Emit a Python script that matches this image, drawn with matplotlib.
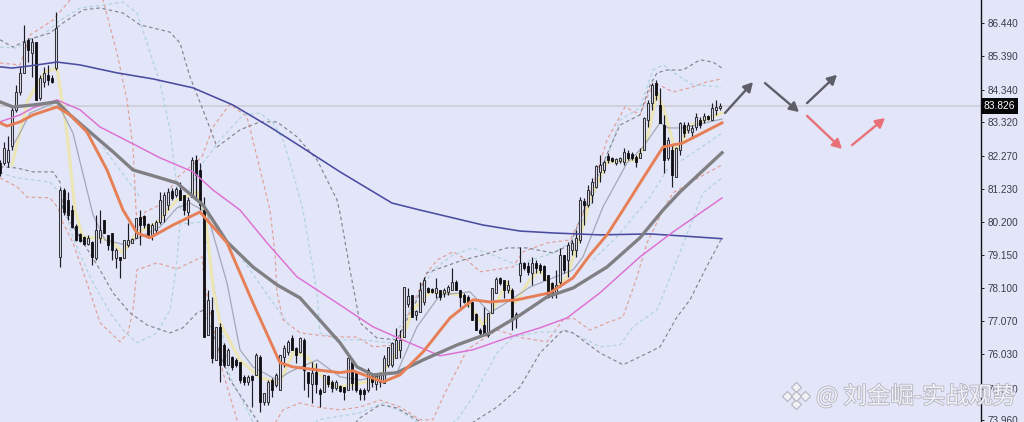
import numpy as np
import matplotlib
matplotlib.use("Agg")
import matplotlib.pyplot as plt
import matplotlib.patheffects as pe
from matplotlib.lines import Line2D

BG = "#e3e5f9"
nan = float("nan")

# candles, one value per bar
opens = [
    82.04, 82.04, 82.07, 82.57, 83.71, 84.27, 84.87, 85.91, 85.50, 85.84,
    84.08, 84.59, 84.81, 84.71, 85.02, 79.09, 81.19, 80.88, 80.56, 80.06,
    79.81, 79.72, 79.50, 79.56, 79.06, 79.69, 80.25, 79.78, 79.84, 79.06,
    79.09, 79.06, 79.47, 79.53, 79.69, 80.35, 80.38, 80.12, 79.78, 79.94,
    80.19, 80.41, 80.72, 81.16, 81.03, 81.19, 81.03, 80.50, 80.97, 82.14,
    81.82, 80.56, 76.64, 77.42, 75.85, 76.89, 76.32, 75.70, 75.95, 75.85,
    75.79, 75.32, 75.16, 75.35, 75.38, 75.95, 74.53, 74.53, 75.22, 75.07,
    74.91, 75.95, 76.10, 76.54, 76.23, 76.10, 76.48, 75.48, 75.10, 75.48,
    74.91, 74.85, 75.35, 75.16, 74.97, 75.04, 75.00, 74.91, 75.79, 75.48,
    74.91, 74.91, 74.91, 75.41, 75.10, 75.16, 75.13, 75.70, 75.70, 75.92,
    76.17, 76.57, 77.61, 77.89, 77.26, 77.36, 77.67, 78.11, 78.08, 77.96,
    78.05, 77.96, 77.99, 78.05, 78.30, 78.05, 77.89, 77.83, 77.67, 77.30,
    76.79, 76.95, 76.64, 77.33, 77.96, 78.43, 78.37, 78.05, 78.05, 77.17,
    78.52, 78.90, 78.80, 78.59, 78.90, 78.84, 78.80, 78.52, 78.27, 77.96,
    78.30, 79.15, 78.99, 79.31, 79.31, 79.62, 80.85, 80.72, 81.03, 81.29,
    81.76, 81.82, 82.26, 82.20, 82.04, 82.10, 82.07, 82.36, 82.32, 82.23,
    82.20, 82.45, 83.39, 83.92, 84.55, 83.86, 83.23, 82.20, 82.45, 81.60,
    82.45, 83.23, 83.08, 83.01, 83.17, 83.39, 83.39, 83.52, 83.39, 83.71,
    83.77,
]
highs = [
    82.14, 82.70, 82.89, 83.86, 84.49, 85.06, 86.38, 85.97, 85.97, 85.84,
    84.81, 85.06, 85.12, 84.81, 86.78, 81.25, 81.25, 81.13, 80.72, 80.12,
    79.84, 79.75, 79.78, 79.59, 80.41, 80.56, 80.25, 79.78, 79.84, 79.37,
    79.09, 79.62, 80.16, 79.69, 80.31, 80.56, 80.41, 80.16, 80.16, 80.25,
    81.13, 81.13, 81.25, 81.25, 81.29, 81.44, 81.03, 80.97, 82.23, 82.29,
    82.04, 80.97, 78.05, 77.83, 76.89, 77.02, 76.39, 76.23, 75.98, 75.92,
    75.79, 75.38, 75.38, 75.38, 76.07, 76.01, 74.82, 75.22, 75.29, 75.45,
    76.01, 76.32, 76.48, 76.64, 76.26, 76.57, 76.54, 75.48, 75.79, 75.76,
    74.97, 75.38, 75.38, 75.22, 75.22, 75.07, 75.00, 75.95, 75.85, 75.48,
    74.97, 74.97, 75.60, 75.45, 75.45, 75.48, 76.01, 76.26, 76.42, 76.86,
    76.79, 78.14, 78.11, 77.89, 77.42, 78.30, 78.46, 78.14, 78.11, 78.43,
    78.05, 78.11, 78.21, 78.74, 78.37, 78.05, 77.96, 77.89, 77.67, 77.33,
    76.86, 77.51, 77.33, 78.11, 78.46, 78.46, 78.37, 78.37, 78.11, 77.36,
    79.40, 78.93, 78.93, 79.09, 78.99, 78.90, 78.84, 78.52, 78.30, 78.68,
    79.37, 79.15, 79.56, 79.62, 79.94, 80.97, 80.94, 81.35, 81.57, 81.97,
    82.29, 82.14, 82.36, 82.23, 82.20, 82.23, 82.51, 82.45, 82.39, 82.29,
    82.51, 83.49, 84.02, 84.55, 84.65, 84.40, 83.55, 82.86, 82.61, 82.54,
    83.33, 83.33, 83.33, 83.23, 83.61, 83.49, 83.61, 83.55, 83.92, 84.02,
    83.92,
]
lows = [
    81.63, 81.98, 81.92, 82.45, 83.64, 84.18, 84.87, 85.21, 84.74, 84.02,
    84.02, 84.43, 84.49, 84.55, 84.96, 78.77, 80.41, 80.25, 80.00, 79.59,
    79.56, 79.47, 79.47, 78.84, 78.99, 79.53, 79.84, 79.31, 78.99, 78.74,
    78.43, 79.06, 79.40, 79.53, 79.69, 79.47, 80.00, 79.69, 79.62, 79.84,
    80.12, 80.19, 80.56, 80.88, 80.97, 80.88, 80.41, 80.09, 80.97, 80.88,
    80.56, 76.57, 76.64, 75.76, 75.85, 75.16, 75.63, 75.70, 75.54, 75.63,
    75.13, 75.07, 75.07, 74.37, 75.38, 74.22, 74.44, 74.44, 74.69, 75.00,
    74.91, 75.63, 76.01, 76.17, 75.76, 76.07, 74.91, 74.69, 74.50, 74.82,
    74.37, 74.85, 75.00, 74.85, 74.91, 74.85, 74.59, 74.91, 74.91, 74.85,
    74.59, 74.59, 74.85, 75.00, 74.91, 75.00, 75.13, 75.63, 75.63, 75.92,
    75.92, 76.57, 77.51, 77.20, 77.11, 77.36, 77.58, 77.96, 77.96, 77.80,
    77.74, 77.83, 77.89, 78.05, 78.05, 77.51, 77.64, 77.51, 77.11, 76.79,
    76.64, 76.64, 76.57, 77.33, 77.96, 78.21, 77.80, 77.96, 76.79, 76.86,
    78.30, 78.68, 78.52, 78.21, 78.59, 78.59, 78.37, 77.80, 77.80, 77.80,
    78.14, 78.59, 78.46, 79.15, 79.09, 79.53, 80.09, 80.66, 80.78, 81.25,
    81.44, 81.73, 82.04, 82.07, 81.98, 82.04, 81.98, 82.14, 82.14, 81.92,
    82.20, 82.45, 83.17, 83.71, 84.02, 83.30, 81.73, 82.14, 81.29, 81.60,
    82.29, 82.86, 82.98, 82.86, 83.08, 83.14, 83.30, 83.39, 83.39, 83.55,
    83.71,
]
closes = [
    81.73, 82.51, 82.45, 83.71, 84.27, 84.87, 85.84, 85.59, 85.84, 84.02,
    84.71, 84.87, 84.65, 84.59, 86.28, 81.19, 80.50, 80.41, 80.03, 79.62,
    79.59, 79.50, 79.69, 79.09, 79.94, 79.94, 79.84, 79.47, 79.31, 79.31,
    78.99, 79.62, 79.62, 79.66, 80.31, 80.09, 80.09, 79.78, 80.09, 80.19,
    80.88, 81.03, 81.13, 80.94, 81.22, 80.88, 80.56, 80.88, 82.14, 81.66,
    80.72, 76.57, 77.74, 75.92, 76.89, 75.70, 75.70, 76.17, 75.63, 75.70,
    75.22, 75.16, 75.32, 75.22, 76.01, 74.53, 74.82, 75.16, 74.91, 75.38,
    76.01, 76.23, 76.42, 76.17, 76.01, 76.54, 75.54, 75.13, 75.45, 75.10,
    74.79, 75.38, 75.10, 74.97, 75.16, 74.88, 74.85, 75.92, 75.13, 74.91,
    74.79, 74.79, 75.54, 75.16, 75.35, 75.41, 75.92, 76.26, 76.39, 76.48,
    76.48, 78.14, 77.86, 77.20, 77.39, 78.05, 78.37, 77.99, 77.99, 78.11,
    77.83, 78.05, 78.14, 78.30, 78.05, 77.83, 77.67, 77.64, 77.11, 76.79,
    76.70, 76.64, 77.33, 78.11, 78.40, 78.27, 78.05, 78.21, 77.11, 77.30,
    78.90, 78.74, 78.62, 78.90, 78.74, 78.68, 78.37, 77.83, 77.89, 78.21,
    79.15, 78.68, 79.47, 79.53, 79.69, 80.88, 80.72, 81.19, 81.44, 81.94,
    81.98, 82.07, 82.14, 82.10, 82.17, 82.20, 82.39, 82.20, 82.20, 82.07,
    82.36, 83.46, 83.92, 84.49, 84.18, 83.30, 82.14, 82.76, 81.66, 82.51,
    83.30, 82.98, 83.23, 83.14, 83.49, 83.23, 83.52, 83.42, 83.77, 83.80,
    83.83,
]

# moving averages
ma200_x = [0, 3, 7.5, 14.25, 20, 29.25, 38.25, 48.25, 58.25, 67.5, 75, 85, 98, 105, 120.75, 130, 138.25, 150, 162.5, 170, 180.5]
ma200 = [85.06, 85.02, 85.09, 85.21, 85.12, 84.87, 84.68, 84.40, 83.86, 83.17, 82.57, 81.76, 80.78, 80.56, 80.09, 79.90, 79.84, 79.78, 79.81, 79.75, 79.66]

ma100_x = [0, 5, 8.25, 14.25, 20, 25, 33.25, 40, 48.25, 53.25, 60, 66.75, 74.25, 85, 93.25, 101.75, 110, 118.25, 126.75, 135, 141.75, 150, 160, 168.25, 180.5]
ma100 = [83.33, 83.55, 83.77, 84.02, 83.71, 83.17, 82.64, 82.20, 81.76, 81.19, 80.56, 79.53, 78.46, 77.58, 76.89, 76.42, 75.98, 76.17, 76.54, 76.86, 77.17, 77.96, 79.09, 79.87, 80.94]

ma50_x = [0, 3.25, 8.25, 14.25, 17.5, 22.5, 28.25, 33.25, 39.25, 44.25, 50.75, 56.75, 63.25, 69.25, 75, 85, 89.25, 93.25, 99.25, 105.75, 114.25, 122.5, 130, 136.75, 143.25, 151.75, 160, 165.75, 170, 180.5]
ma50 = [83.96, 83.80, 83.86, 83.96, 83.55, 83.01, 82.39, 81.82, 81.60, 81.41, 80.72, 79.56, 78.77, 78.21, 77.80, 76.39, 75.63, 75.38, 75.45, 75.85, 76.32, 76.70, 77.26, 77.83, 78.11, 78.77, 79.69, 80.56, 81.13, 82.36]

ma20_x = [0, 1.75, 5, 8.25, 14.25, 17.5, 21.75, 26.75, 30.75, 34.25, 37.5, 43.25, 50, 56.75, 63.25, 70, 73.25, 85, 88.25, 95.75, 100, 105.75, 112.5, 118.25, 122.5, 129.25, 137.5, 143.25, 147.5, 151.75, 155.75, 160, 165.75, 170.75, 180.5]
ma20 = [83.30, 83.20, 83.33, 83.55, 83.80, 83.55, 83.01, 81.82, 80.56, 79.84, 79.69, 80.09, 80.50, 79.53, 77.64, 75.76, 75.63, 75.45, 75.51, 75.16, 75.38, 76.10, 77.17, 77.74, 77.67, 77.74, 77.96, 78.43, 79.15, 79.78, 80.56, 81.41, 82.54, 82.67, 83.30]

ma10_x = [3, 5, 7.5, 14.25, 18.25, 23.25, 26.25, 31.25, 40, 44.25, 47.5, 51.75, 56.75, 60, 63.25, 69.25, 72.5, 79.25, 85, 90, 99.25, 104.25, 110, 117.5, 122.5, 125.75, 132.5, 138.25, 143.25, 145.75, 150.75, 156.75, 160.75, 165, 167, 170.75, 180.5]
ma10 = [82.54, 82.98, 83.61, 83.96, 82.98, 80.41, 79.62, 79.47, 80.03, 80.63, 80.78, 80.47, 78.27, 76.17, 75.63, 75.22, 75.48, 75.85, 75.32, 75.22, 75.45, 76.89, 77.89, 77.99, 77.33, 77.58, 78.14, 78.43, 78.68, 79.09, 80.66, 82.04, 82.54, 83.30, 83.14, 83.14, 83.42]

ma5_x = [3, 7, 11.25, 14.25, 16.75, 18.75, 20.75, 25, 28.25, 30.75, 34.25, 39.25, 44.25, 49.25, 51.25, 53.25, 55, 60, 65, 70, 73.25, 76.75, 81.75, 85, 94.25, 99.25, 103.25, 107.5, 115.75, 120.75, 123.25, 126.75, 128.75, 132.5, 135, 138.25, 141.75, 145.75, 147.5, 151.75, 159.25, 161.75, 164.25, 166.25, 168.75, 170.75, 171.75, 180.5]
ma5 = [81.98, 84.02, 84.90, 85.02, 82.98, 80.56, 79.69, 79.69, 79.53, 79.21, 79.84, 80.16, 80.88, 81.13, 80.47, 78.14, 77.02, 75.85, 75.29, 75.13, 76.10, 75.95, 75.13, 75.00, 75.22, 76.07, 77.42, 77.99, 77.89, 76.95, 77.42, 78.30, 77.64, 78.37, 78.68, 78.05, 78.46, 80.03, 80.88, 82.07, 82.14, 82.76, 84.24, 83.61, 82.45, 82.67, 83.17, 83.61]

# bollinger bands (dashed)
red_up_x = [0, 5, 7.5, 13.25, 17.5, 21.25, 25.75, 29.25, 31.75, 33.25, 34, 34.5, 36.25, 40, 44.25, 50.5, 53.25, 57.5, 61.75, 64.25, 67.5, 68.75, 69.25, 70.75, 75, 80.75, 85, 89.25, 93.25, 98.75, 102.5, 106.75, 109.25, 113.25, 116.75, 120, 128.25, 130.75, 136.75, 142.5, 146.25, 151.75, 156.25, 160, 163.25, 165.75, 168.25, 172.5, 176.75, 180.5]
red_up = [85.18, 85.12, 86.06, 86.53, 87.16, 87.63, 87.16, 85.49, 84.02, 82.54, 80.56, 80.00, 80.50, 80.72, 81.57, 82.23, 83.17, 83.89, 83.49, 82.23, 80.56, 79.21, 77.96, 77.11, 76.70, 76.61, 76.57, 76.57, 76.26, 76.32, 77.42, 78.59, 78.99, 79.25, 78.99, 78.62, 78.77, 79.25, 79.53, 79.62, 80.56, 82.76, 83.80, 83.55, 84.55, 84.43, 84.27, 84.40, 84.59, 84.68]
red_lo_x = [0, 4.25, 6.75, 12.5, 14.5, 15.75, 18.25, 21.75, 25, 30, 32, 33.25, 34.25, 39.25, 44.25, 50.5, 51, 55.75, 59.25, 62.5, 66.25, 69.25, 70.75, 75, 79.25, 85, 90, 95, 100, 105, 108.25, 110.75, 114.25, 116.75, 124.25, 130.75, 136.75, 140.75, 143.25, 147.5, 151.75, 155.75, 159.25, 161.75, 165.75, 168.25, 175, 180.5]
red_lo = [81.57, 81.29, 80.97, 80.94, 80.63, 80.16, 79.53, 78.27, 77.02, 76.42, 76.70, 77.42, 78.68, 78.90, 78.71, 79.09, 78.37, 75.45, 73.97, 73.18, 73.18, 73.97, 74.28, 74.50, 74.37, 74.28, 74.37, 74.59, 74.37, 73.97, 73.97, 74.69, 75.54, 76.17, 76.79, 76.54, 76.42, 77.11, 77.17, 76.79, 77.02, 77.20, 78.46, 79.53, 80.56, 81.10, 81.60, 81.98]

blue_up_x = [0, 4.25, 6.25, 10.75, 14.5, 20, 25.75, 30.75, 34.25, 36.75, 40, 42.5, 44.25, 45, 50.75, 55, 60.75, 65, 68.25, 70.75, 73.25, 75.75, 79.25, 80, 85, 90.75, 97.5, 102.5, 108.25, 113.25, 118.25, 124.25, 129.25, 138.25, 142.5, 147.5, 155, 160, 163.25, 165.75, 169.25, 173.25, 180.5]
blue_up = [85.68, 85.65, 85.84, 86.06, 86.47, 86.91, 87.00, 87.10, 86.75, 85.81, 84.55, 83.08, 81.29, 80.56, 82.04, 82.76, 83.55, 83.61, 83.30, 82.76, 81.73, 80.56, 77.96, 76.70, 76.48, 76.48, 76.39, 77.42, 78.68, 79.15, 79.37, 79.09, 78.84, 79.21, 79.53, 80.66, 83.39, 83.77, 84.96, 85.12, 84.81, 84.49, 84.43]
blue_lo_x = [0, 4.25, 12.5, 15, 18.25, 22.5, 27.5, 30.75, 34.25, 39.25, 42.5, 44, 45, 50.75, 57.5, 61.75, 65.5, 75, 79.5, 90, 95.75, 100.75, 108.75, 114.25, 118.25, 124.25, 128.25, 135, 142.5, 145.75, 150, 155, 158.25, 164.25, 169.25, 175.75, 180.5]
blue_lo = [81.73, 81.57, 81.44, 81.10, 79.69, 78.46, 77.33, 76.79, 76.39, 76.70, 77.42, 78.68, 80.12, 80.19, 75.32, 74.28, 73.34, 73.18, 73.97, 74.19, 74.50, 74.19, 73.50, 73.97, 74.69, 76.07, 76.57, 76.73, 76.73, 76.54, 76.26, 76.32, 76.89, 77.42, 78.99, 81.10, 81.57]
blue_mid_x = [25.75, 35, nan, 60.75, 72.5, nan, 148.25, 154.25, 162.5, 166.75, 171.75, 180.5]
blue_mid = [82.54, 80.97, nan, 78.99, 76.89, nan, 78.99, 79.72, 80.97, 81.82, 82.23, 82.98]

gray_up_x = [0, 3.25, 6.75, 12.5, 15.75, 20.75, 25, 30.75, 35, 42.5, 45, 47.5, 50.75, 54.25, 60, 65, 69.25, 74.25, 79.25, 84.25, 85, 87.5, 90, 94.25, 99.25, 104.25, 106.75, 115.75, 120.75, 126.75, 131.75, 138.25, 142.5, 145, 150, 155, 160, 162.5, 164.25, 166.75, 170.75, 175, 178.25, 180.5]
gray_up = [85.91, 85.68, 85.91, 86.12, 86.44, 86.85, 86.91, 86.75, 86.38, 86.15, 85.81, 84.74, 83.71, 82.54, 83.08, 83.33, 83.33, 82.86, 82.14, 80.88, 80.47, 78.68, 77.02, 76.54, 76.48, 77.74, 78.59, 78.99, 79.15, 79.37, 79.37, 79.21, 79.47, 80.25, 81.82, 83.23, 83.55, 84.49, 84.87, 84.96, 84.96, 85.28, 85.21, 85.02]
gray_lo_x = [0, 4.25, 8.25, 13.25, 15, 15.75, 24.25, 28.25, 32.5, 36.75, 42.5, 45.75, 49.25, 51, 57.5, 65, 75, 85, 90, 95, 99.25, 104.25, 111.25, 119.25, 124.25, 130, 135, 140.75, 143.25, 150, 155.75, 160, 165, 169.25, 172.5, 176.25, 180.5]
gray_lo = [81.92, 81.88, 81.76, 81.76, 81.44, 80.56, 78.84, 77.96, 77.33, 76.95, 76.70, 76.86, 77.33, 77.42, 75.22, 73.81, 73.02, 73.34, 74.03, 74.44, 74.34, 73.97, 73.34, 73.97, 74.37, 75.00, 76.07, 76.79, 76.70, 76.07, 75.70, 75.95, 76.26, 77.20, 77.74, 78.68, 79.69]

last_price = 83.826
tick_vals = [86.44, 85.39, 84.34, 83.32, 82.27, 81.23, 80.20, 79.15, 78.10, 77.07, 76.03, 74.93, 73.96]

# drawn-in forecast arrows: (start bar, start price, end bar, end price)
dark_arrows = [(181.25, 83.61, 188.25, 84.58), (191.25, 84.55, 199.75, 83.64), (201.75, 83.92, 209.25, 84.81)]
red_arrows = [(201.75, 83.52, 210.5, 82.48), (213, 82.60, 221.25, 83.45)]

fig = plt.figure(figsize=(10.24, 4.22), dpi=100, facecolor=BG)
ax = fig.add_axes([0, 0, 981 / 1024, 1], facecolor=BG)
ax.set_xlim(0, 245.25)
ax.set_ylim(73.90, 87.16)

for s in ["left", "top", "bottom"]:
    ax.spines[s].set_visible(False)
ax.spines["right"].set_linewidth(1.0)
ax.spines["right"].set_color("#111111")
ax.set_xticks([])
ax.yaxis.tick_right()
ax.set_yticks(tick_vals)
ax.set_yticklabels(["%.3f" % v for v in tick_vals], family="Liberation Sans", fontsize=7.2, color="#3c3c48")
ax.tick_params(axis="y", length=2.5, width=0.7, pad=2.5, color="#222222")

ax.axhline(last_price, color="#cdcdd4", lw=1.2, zorder=1)

# bands
dash = (0, (3, 2.4))
for x, y, c in [
    (red_up_x, red_up, "#e0a097"), (red_lo_x, red_lo, "#e0a097"),
    (blue_up_x, blue_up, "#aed3dd"), (blue_lo_x, blue_lo, "#aed3dd"), (blue_mid_x, blue_mid, "#aed3dd"),
    (gray_up_x, gray_up, "#85858f"), (gray_lo_x, gray_lo, "#85858f"),
]:
    ax.plot(x, y, color=c, lw=0.85, ls=dash, zorder=1.5)

ax.plot(ma5_x, ma5, color="#ece5b4", lw=2.2, zorder=2)
ax.plot(ma10_x, ma10, color="#a2a9b8", lw=0.9, zorder=2)

# candles
idx = np.arange(len(opens))
o, h, l, c = map(np.array, (opens, highs, lows, closes))
ax.vlines(idx, l, h, color="#1c1c24", lw=0.85, zorder=3)
up = c >= o
ax.bar(idx[up], (c - o)[up], bottom=o[up], width=0.72, color="#dcdce8", edgecolor="#33333b", linewidth=0.75, zorder=3.1)
ax.bar(idx[~up], (o - c)[~up], bottom=c[~up], width=0.72, color="#101015", edgecolor="#101015", linewidth=0.6, zorder=3.1)

ax.plot(ma200_x, ma200, color="#4a4ca0", lw=1.15, zorder=4)
ax.plot(ma100_x, ma100, color="#dd6fd2", lw=1.05, zorder=4)
ax.plot(ma50_x, ma50, color="#808084", lw=2.4, zorder=4)
ax.plot(ma20_x, ma20, color="#e67f55", lw=2.1, zorder=4.1)

for arrows, col in [(dark_arrows, "#5d5e68"), (red_arrows, "#e87078")]:
    for x0, y0, x1, y1 in arrows:
        ax.annotate("", xy=(x1, y1), xytext=(x0, y0), zorder=5,
                    arrowprops=dict(arrowstyle="-|>,head_length=0.55,head_width=0.3", color=col, lw=1.7, shrinkA=0, shrinkB=0))

# current price tag
ax.text(1.0025, last_price, "83.826", transform=ax.get_yaxis_transform(), va="center", ha="left",
        family="Liberation Sans", fontsize=7.4, color="white", clip_on=False, zorder=6,
        bbox=dict(boxstyle="square,pad=0.28", fc="#060608", ec="none"))

# watermark
stroke = [pe.withStroke(linewidth=1.2, foreground="#b5b5c0")]
fig.text(816 / 1024, 1 - 396 / 422, "@ 刘金崛-实战观势", family=["Noto Sans CJK SC", "DejaVu Sans"],
         fontsize=16.9, color="#f0f0f7", va="center", ha="left", path_effects=stroke, zorder=10)
for px, py in [(796, 387), (796, 404), (787, 395.5), (805, 395.5), (796, 395.5)]:
    fig.add_artist(Line2D([px / 1024], [1 - py / 422], marker="D", ms=5.2, mfc="#f0f0f7", mec="#b5b5c0",
                          mew=0.8, ls="none", transform=fig.transFigure, zorder=10))

fig.savefig("out.png", dpi=100, facecolor=BG)
